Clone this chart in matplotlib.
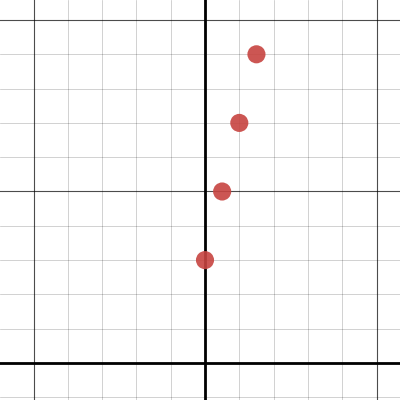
import matplotlib
matplotlib.use("Agg")
import matplotlib.pyplot as plt
import numpy as np

xs = [0, 0.5, 1, 1.5]
ys = [3, 5, 7, 9]

fig = plt.figure(figsize=(4, 4), dpi=100)
ax = fig.add_axes([0, 0, 1, 1])
u = 34.3
ax.set_xlim(-205/u, (400-205)/u)
ax.set_ylim(-(400-363)/u, 363/u)
for v in np.arange(-6, 7, 1):
    major = (v % 5 == 0)
    ax.axvline(v, color='black', lw=0.8 if major else 0.5, alpha=0.7 if major else 0.25, zorder=0)
for v in np.arange(-2, 12, 1):
    major = (v % 5 == 0)
    ax.axhline(v, color='black', lw=0.8 if major else 0.5, alpha=0.7 if major else 0.25, zorder=0)
ax.axvline(0, color='black', lw=2, zorder=1)
ax.axhline(0, color='black', lw=2, zorder=1)
ax.scatter(xs, ys, s=170, color='#c74440', alpha=0.9, edgecolors='none', zorder=3)
ax.set_xticks([]); ax.set_yticks([])
for s in ax.spines.values():
    s.set_visible(False)
fig.savefig("out.png", dpi=100)
